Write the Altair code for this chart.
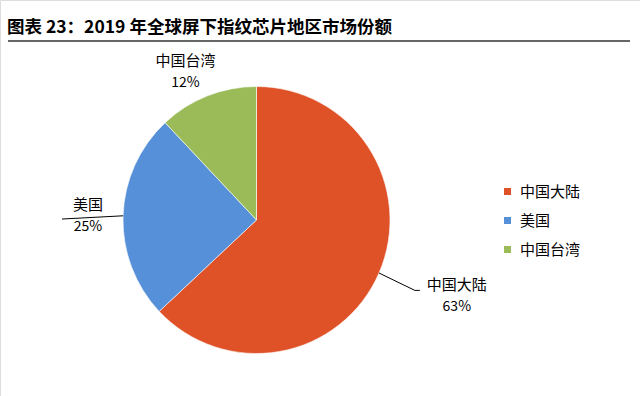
import altair as alt
import pandas as pd

# ---- data ----
categories = ["中国大陆", "美国", "中国台湾"]
shares = [63, 25, 12]
pct_labels = ["63%", "25%", "12%"]
title_text = "图表 23：2019 年全球屏下指纹芯片地区市场份额"

# ---- style ----
colors = ["#DF5127", "#5690D8", "#9BBB59"]
FONT = "Noto Sans CJK SC"
CX, CY, R = 256.5, 220, 133.5
label_radius = {"中国大陆": 215, "美国": 168, "中国台湾": 162}
label_shift = {"中国大陆": (3, -9), "美国": (-0.6, 1.3), "中国台湾": (-11.4, 2.6)}
# leader line elbow / end relative to label centre
leader = {"中国大陆": ((-42, -6), (-37, -6)), "美国": ((-26, 3), (-26, 3))}


def by_region(d, default=0):
    expr = str(default)
    for k, v in d.items():
        expr = f"(datum.region === '{k}' ? {v} : {expr})"
    return expr


df = pd.DataFrame({
    "region": categories,
    "share": shares,
    "pct": pct_labels,
    "idx": list(range(len(categories))),
})

base = alt.Chart(df)

pie = base.mark_arc(outerRadius=R, stroke="white", strokeWidth=0.6).encode(
    theta=alt.Theta("share:Q", stack=True),
    order=alt.Order("idx:Q"),
    color=alt.Color(
        "region:N",
        sort=categories,
        scale=alt.Scale(domain=categories, range=colors),
        legend=alt.Legend(
            title=None, orient="none", legendX=500, legendY=184,
            symbolType="square", symbolSize=49, symbolStrokeWidth=0,
            labelFont=FONT, labelFontSize=15, labelColor="#000000",
            labelOffset=5, rowPadding=13, padding=0,
        ),
    ),
    x=alt.value(CX),
    y=alt.value(CY),
)

geo = (
    base.transform_window(cum="sum(share)", sort=[alt.SortField("idx")], frame=[None, 0])
    .transform_joinaggregate(total="sum(share)")
    .transform_calculate(a="(datum.cum - datum.share / 2) / datum.total * 2 * PI")
    .transform_calculate(
        ex=f"{CX} + {R} * sin(datum.a)",
        ey=f"{CY} - {R} * cos(datum.a)",
        lr=by_region(label_radius, 160),
        sx=by_region({k: v[0] for k, v in label_shift.items()}),
        sy=by_region({k: v[1] for k, v in label_shift.items()}),
    )
    .transform_calculate(
        lx=f"{CX} + datum.lr * sin(datum.a) + datum.sx",
        ly=f"{CY} - datum.lr * cos(datum.a) + datum.sy",
    )
    .transform_calculate(
        ny="datum.ly - 11",
        py="datum.ly + 11",
        kx="datum.lx + " + by_region({k: v[0][0] for k, v in leader.items()}),
        ky="datum.ly + " + by_region({k: v[0][1] for k, v in leader.items()}),
        tx="datum.lx + " + by_region({k: v[1][0] for k, v in leader.items()}),
        ty="datum.ly + " + by_region({k: v[1][1] for k, v in leader.items()}),
    )
)

names = geo.mark_text(font=FONT, fontSize=15, color="#000000", align="center", baseline="middle").encode(
    x=alt.X("lx:Q", scale=None, axis=None),
    y=alt.Y("ny:Q", scale=None, axis=None),
    text="region:N",
)
pcts = geo.mark_text(font=FONT, fontSize=14, color="#000000", align="center", baseline="middle").encode(
    x=alt.X("lx:Q", scale=None, axis=None),
    y=alt.Y("py:Q", scale=None, axis=None),
    text="pct:N",
)

leader_regions = list(leader.keys())
seg1 = geo.transform_filter(alt.FieldOneOfPredicate(field="region", oneOf=leader_regions)).mark_rule(
    color="#000000", strokeWidth=1
).encode(
    x=alt.X("ex:Q", scale=None, axis=None),
    y=alt.Y("ey:Q", scale=None, axis=None),
    x2="kx:Q",
    y2="ky:Q",
)
seg2 = geo.transform_filter(alt.FieldOneOfPredicate(field="region", oneOf=leader_regions)).mark_rule(
    color="#000000", strokeWidth=1
).encode(
    x=alt.X("kx:Q", scale=None, axis=None),
    y=alt.Y("ky:Q", scale=None, axis=None),
    x2="tx:Q",
    y2="ty:Q",
)

title_df = pd.DataFrame({"t": [title_text]})
title = alt.Chart(title_df).mark_text(
    font=FONT, fontSize=17.5, fontWeight="bold", color="#000000", align="left", baseline="alphabetic"
).encode(x=alt.value(7), y=alt.value(33), text="t:N")

title_rule = alt.Chart(title_df).mark_rule(color="#666666", strokeWidth=2).encode(
    x=alt.value(8), x2=alt.value(630), y=alt.value(41), y2=alt.value(41)
)

chart = (
    alt.layer(pie, seg1, seg2, names, pcts, title, title_rule)
    .properties(width=640, height=396, autosize=alt.AutoSizeParams(type="none"), padding=0)
    .configure_view(stroke=None)
    .configure_axis(disable=True)
    .configure(background="white")
)

chart.save("out.html", embed_options={"renderer": "svg", "actions": False})
